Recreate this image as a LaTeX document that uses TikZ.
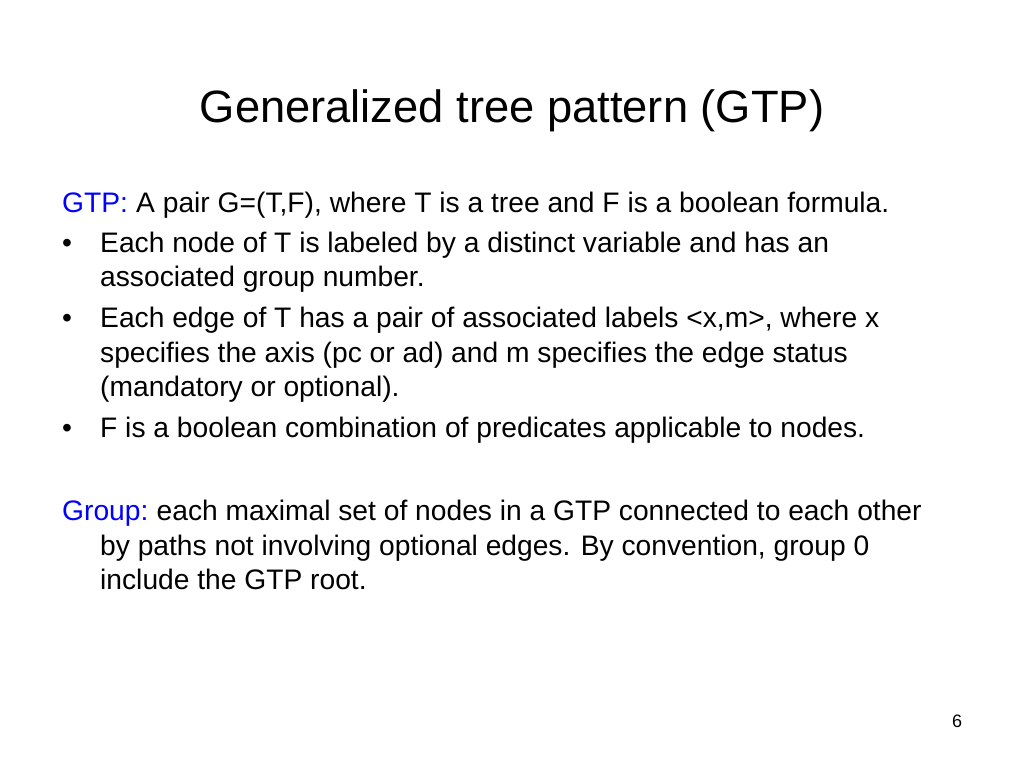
\documentclass[tikz,border=0pt]{standalone}
\usepackage{fontspec}
\setmainfont{Liberation Sans}
\begin{document}
\begin{tikzpicture}[x=1pt,y=-1pt,
  body/.style={anchor=base west,inner sep=0pt,font=\fontsize{28.2}{32}\selectfont},
  lbl/.style={body,text=blue}]
\useasboundingbox (0,0) rectangle (1024,768);
\node[anchor=base,inner sep=0pt,font=\fontsize{45.3}{50}\selectfont] (title) at (512,122) {Generalized tree pattern (GTP)};
\node[lbl] (g1) at (62,212) {GTP:};
\node[body] (t1) at (g1.base east) {\ A pair G=(T,F), where T is a tree and F is a boolean formula.};
\node[body] (b1) at (62,252) {•};
\node[body] (t2) at (100,252) {Each node of T is labeled by a distinct variable and has an};
\node[body] (t3) at (100,286) {associated group number.};
\node[body] (b2) at (62,327) {•};
\node[body] (t4) at (100,327) {Each edge of T has a pair of associated labels <x,m>, where x};
\node[body] (t5) at (100,362) {specifies the axis (pc or ad) and m specifies the edge status};
\node[body] (t6) at (100,396) {(mandatory or optional).};
\node[body] (b3) at (62,437) {•};
\node[body] (t7) at (100,437) {F is a boolean combination of predicates applicable to nodes.};
\node[lbl] (g2) at (62,520) {Group:};
\node[body] (t8) at (g2.base east) {\ each maximal set of nodes in a GTP connected to each other};
\node[body] (t9) at (100,555) {by paths not involving optional edges. By convention, group 0};
\node[body] (t10) at (100,589) {include the GTP root.};
\node[anchor=base,inner sep=0pt,font=\fontsize{18}{20}\selectfont] (num) at (957,727) {6};
\end{tikzpicture}
\end{document}
